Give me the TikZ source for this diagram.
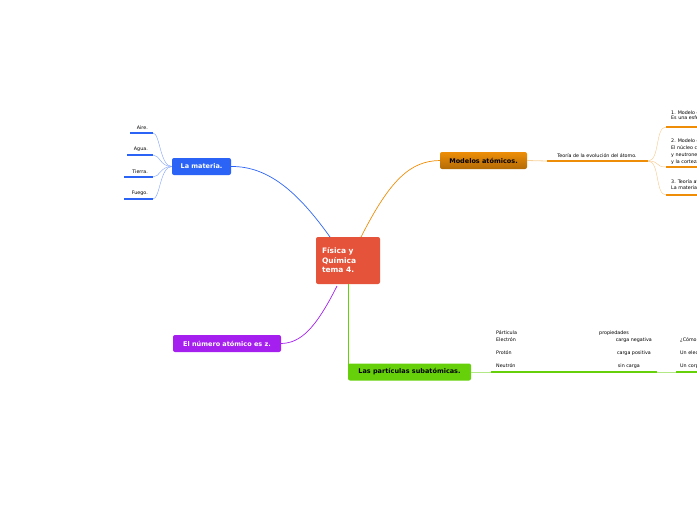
\documentclass[tikz,border=0pt]{standalone}
\usepackage{fontspec}
\setmainfont{DejaVu Sans}
\begin{document}
\begin{tikzpicture}[x=1pt,y=-1pt,
 box/.style={rounded corners=2pt,minimum height=17pt,inner xsep=6pt,font=\fontsize{6.5}{7}\selectfont\bfseries},
 small/.style={font=\fontsize{4.8}{5.6}\selectfont,inner sep=0pt},
 ul/.style={line width=1.8pt},
 con/.style={line width=0.7pt}]
\definecolor{cred}{HTML}{E4533A}
\definecolor{cblue}{HTML}{2A63F6}
\definecolor{corange}{HTML}{EE8E08}
\definecolor{cpurple}{HTML}{A51FEE}
\definecolor{cgreen}{HTML}{66D10A}
\useasboundingbox (0,0) rectangle (697,520);
\node[fill=cred,text=white,rounded corners=2pt,minimum width=64pt,minimum height=47pt,text width=52pt,inner xsep=6pt,align=left,font=\fontsize{7.5}{9.5}\selectfont\bfseries] (c) at (348,260.5) {Física y\\Química\\tema 4.};
\node[box,fill=cblue,text=white,minimum width=59pt] (m) at (201.5,166.5) {La materia.};
\node[box,top color=corange,bottom color=corange!75!black,text=black,minimum width=87pt] (mo) at (483.5,160.5) {Modelos atómicos.};
\node[box,fill=cpurple,text=white,minimum width=108pt] (p) at (227,343.5) {El número atómico es z.};
\node[box,fill=cgreen,text=black,minimum width=123pt] (g) at (409.5,372) {Las partículas subatómicas.};
\draw[con,cblue] (330,237) .. controls (300,195) and (270,166) .. (m.east);
\draw[con,corange] (361,237) .. controls (390,180) and (410,161) .. (mo.west);
\draw[con,cpurple] (337,286) .. controls (315,330) and (300,343) .. (p.east);
\draw[con,cgreen] (348,284) -- (348,372) -- (g.west);
\foreach \t/\y/\xa in {Aire./133/130,Agua./155/127,Tierra./177/124,Fuego./199/124}{
 \draw[ul,cblue] (\xa,\y) -- (153,\y);
 \node[small,anchor=south east] at (148,\y-3) {\t};
 \draw[cblue!60,line width=0.4pt] (m.west) .. controls (160,166.5) and (160,\y) .. (153,\y);
}
\coordinate (t1) at (547,161);
\draw[corange!40,line width=0.8pt] (mo.east) -- (t1);
\draw[ul,corange] (t1) -- (648,161);
\node[small,anchor=south] at (597,157.5) {Teoría de la evolución del átomo.};
\foreach \y in {127,167,195}{
 \draw[corange!50,line width=0.4pt] (648,161) .. controls (660,161) and (655,\y) .. (666,\y);
 \draw[ul,corange] (666,\y) -- (700,\y);
}
\node[small,anchor=north west,align=left] at (671,110.5) {1. Modelo de Dalton.\\Es una esfera};
\node[small,anchor=north west,align=left,font=\fontsize{4.8}{7}\selectfont] at (671,138.5) {2. Modelo de Rutherford.\\El núcleo con protones\\y neutrones,\\y la corteza};
\node[small,anchor=north west,align=left] at (671,179.5) {3. Teoría atómica\\La materia};
\draw[cgreen!50,line width=0.8pt] (g.east) -- (491,372);
\draw[ul,cgreen] (491,372) -- (657,372);
\draw[cgreen!50,line width=0.8pt] (657,372) -- (676,372);
\draw[ul,cgreen] (676,372) -- (700,372);
\node[small,anchor=west] at (496,333) {Párticula};
\node[small,anchor=west] at (599,333) {propiedades};
\node[small,anchor=west] at (496,340) {Electrón};
\node[small,anchor=east] at (652,340) {carga negativa};
\node[small,anchor=west] at (496,353) {Protón};
\node[small,anchor=east] at (651,353) {carga positiva};
\node[small,anchor=west] at (496,366) {Neutrón};
\node[small,anchor=east] at (640,366) {sin carga};
\node[small,anchor=west] at (680,340) {¿Cómo son?};
\node[small,anchor=west] at (680,353) {Un electrón};
\node[small,anchor=west] at (680,366) {Un corpúsculo};
\end{tikzpicture}
\end{document}
